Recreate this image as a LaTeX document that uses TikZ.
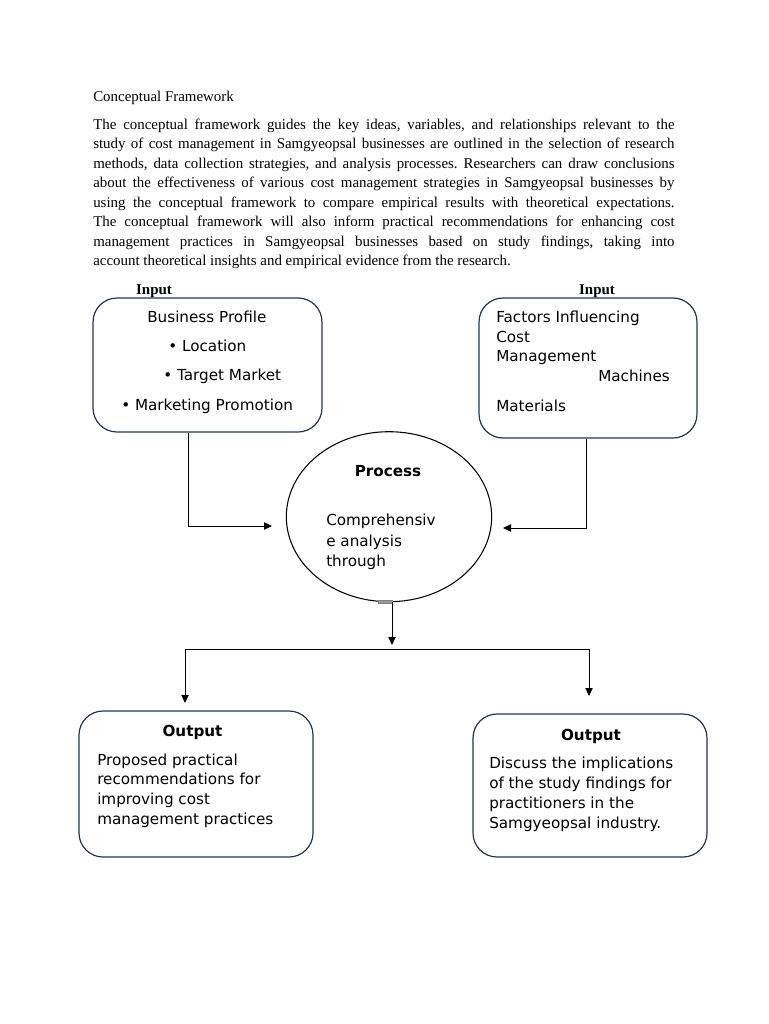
\documentclass[tikz,border=0pt]{standalone}
\usepackage{fontspec}
\setmainfont{Liberation Serif}
\newfontfamily\dv{DejaVu Sans}
\usetikzlibrary{shapes.geometric,arrows.meta}
\definecolor{boxline}{rgb}{0.13,0.21,0.33}
\begin{document}
\begin{tikzpicture}[x=0.75pt,y=-0.75pt,
  rbox/.style={draw=boxline,line width=0.9pt,rounded corners=18pt,inner sep=0pt},
  dtxt/.style={font=\dv\fontsize{11.4pt}{14.6pt}\selectfont,inner sep=0pt,yshift=-2pt},
  dbold/.style={font=\dv\bfseries\fontsize{11.4pt}{14.6pt}\selectfont,inner sep=0pt,yshift=-1.5pt},
  inlab/.style={font=\bfseries\fontsize{11.2pt}{13pt}\selectfont,inner sep=0pt,yshift=-1.5pt},
  conn/.style={draw=black,line width=0.75pt},
  arr/.style={conn,-{Triangle[length=6pt,width=5.5pt]}}]
\useasboundingbox (0,0) rectangle (768,1024);
\fill[white] (0,0) rectangle (768,1024);

% title and paragraph
\node[anchor=base west,inner sep=0pt,font=\fontsize{11.2pt}{14.6pt}\selectfont] (title) at (93,101.5) {Conceptual Framework};
\node[anchor=north west,inner sep=0pt,text width=436pt,align=justify,
      font=\fontsize{11.2pt}{14.6pt}\selectfont] (para) at (93,118.5)
{\frenchspacing\hyphenpenalty=10000 The conceptual framework guides the key ideas, variables, and relationships relevant to the\linebreak
study of cost management in Samgyeopsal businesses are outlined in the selection of research\linebreak
methods, data collection strategies, and analysis processes. Researchers can draw conclusions\linebreak
about the effectiveness of various cost management strategies in Samgyeopsal businesses by\linebreak
using the conceptual framework to compare empirical results with theoretical expectations.\linebreak
The conceptual framework will also inform practical recommendations for enhancing cost\linebreak
management practices in Samgyeopsal businesses based on study findings, taking into\linebreak
account theoretical insights and empirical evidence from the research.};

% input labels
\node[inlab] (in1) at (154,289) {Input};
\node[inlab] (in2) at (597,289) {Input};

% input boxes
\node[rbox,minimum width=171.75pt,minimum height=100.5pt] (lb) at (207.5,365) {};
\node[rbox,minimum width=163.5pt,minimum height=105pt] (rb) at (588,368) {};

\node[dtxt,anchor=mid west] (lb1) at (147,317) {Business Profile};
\node[dtxt,anchor=mid west] (lb2) at (168,346) {• Location};
\node[dtxt,anchor=mid west] (lb3) at (163,375) {• Target Market};
\node[dtxt,anchor=mid west] (lb4) at (121,405) {• Marketing Promotion};

\node[dtxt,anchor=mid west] (rb1) at (496,317) {Factors Influencing};
\node[dtxt,anchor=mid west] (rb2) at (496,337) {Cost};
\node[dtxt,anchor=mid west] (rb3) at (496,356) {Management};
\node[dtxt,anchor=mid west] (rb4) at (598,376) {Machines};
\node[dtxt,anchor=mid west] (rb5) at (496,406) {Materials};

% process ellipse
\node[draw=black,line width=0.8pt,ellipse,minimum width=154pt,minimum height=127.5pt,inner sep=0pt] (pc) at (389,516.7) {};
\node[dbold] (pt) at (388,469) {Process};
\node[dtxt,anchor=mid west] (p1) at (326,520) {Comprehensiv};
\node[dtxt,anchor=mid west] (p2) at (326,541) {e analysis};
\node[dtxt,anchor=mid west] (p3) at (326,561) {through};

% connectors into process
\coordinate (lc) at (188,526);
\coordinate (lt) at (272,526);
\draw[arr] (lb.south -| lc) -- (lc) -- (lt);
\coordinate (rc) at (586,528);
\coordinate (rt) at (503,528);
\draw[arr] (rb.south -| rc) -- (rc) -- (rt);

% connector out of process
\fill[gray!80,draw=gray] (378,600) rectangle (392,603);
\coordinate (pd) at (392,645);
\draw[arr] (pc.south -| pd) -- (pd);
\coordinate (sl) at (185,649);
\coordinate (sr) at (589,649);
\coordinate (tl) at (185,703);
\coordinate (tr) at (589,696);
\draw[conn] (sl) -- (sr);
\draw[arr] (sl) -- (tl);
\draw[arr] (sr) -- (tr);

% output boxes
\node[rbox,minimum width=175.5pt,minimum height=109.5pt] (ob1) at (196,784) {};
\node[rbox,minimum width=175.5pt,minimum height=107.25pt] (ob2) at (590,785.5) {};

\node[dbold] (o1t) at (192.5,730) {Output};
\node[dtxt,anchor=mid west] (o1a) at (97,760) {Proposed practical};
\node[dtxt,anchor=mid west] (o1b) at (97,779) {recommendations for};
\node[dtxt,anchor=mid west] (o1c) at (97,799) {improving cost};
\node[dtxt,anchor=mid west] (o1d) at (97,819) {management practices};

\node[dbold] (o2t) at (591,734) {Output};
\node[dtxt,anchor=mid west] (o2a) at (489,763) {Discuss the implications};
\node[dtxt,anchor=mid west] (o2b) at (489,783) {of the study findings for};
\node[dtxt,anchor=mid west] (o2c) at (489,803) {practitioners in the};
\node[dtxt,anchor=mid west] (o2d) at (489,823) {Samgyeopsal industry.};
\end{tikzpicture}
\end{document}
